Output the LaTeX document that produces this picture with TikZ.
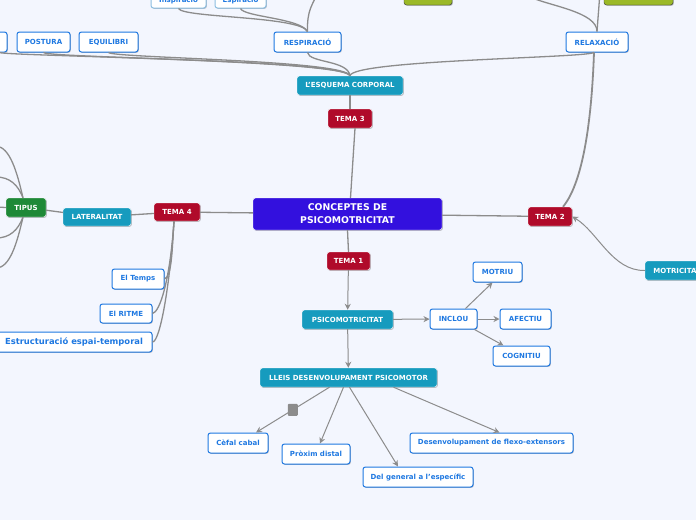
\documentclass[tikz,border=0pt]{standalone}
\usepackage{fontspec}
\setmainfont{DejaVu Sans}
\usetikzlibrary{arrows.meta,shadows}
\definecolor{mapback}{RGB}{243,246,254}
\definecolor{centralblue}{RGB}{51,16,222}
\definecolor{temared}{RGB}{176,10,42}
\definecolor{topicteal}{RGB}{22,155,190}
\definecolor{tipusgreen}{RGB}{30,137,55}
\definecolor{olivegreen}{RGB}{155,185,40}
\definecolor{leafblue}{RGB}{30,120,225}
\definecolor{fadeblue}{RGB}{140,190,225}
\definecolor{linegray}{RGB}{140,140,140}
\begin{document}
\begin{tikzpicture}
[x=1pt,y=-1pt,
  boxdecorate/.style={rounded corners=2.5pt,inner sep=0pt,minimum height=19pt,align=center,%
    font=\fontsize{7}{8}\selectfont\bfseries,%
    drop shadow={shadow xshift=0.8pt,shadow yshift=-0.8pt,opacity=0.25,fill=black}},
  temadecorate/.style={boxdecorate,fill=temared,draw=white,text=white},
  topicdecorate/.style={boxdecorate,fill=topicteal,draw=white,text=white},
  leafdecorate/.style={boxdecorate,fill=white,draw=leafblue,line width=1pt,text=leafblue,minimum height=20pt},
  linedecorate/.style={draw=linegray,line width=1.3pt},
  arrowdecorate/.style={-{Stealth[length=6pt,width=6pt]},draw=linegray,line width=1pt}]
\useasboundingbox (0,0) rectangle (696,520);
\fill[mapback] (0,0) rectangle (696,520);
% nodes or vertices
\node (cent) at (347.5,214) [boxdecorate,fill=centralblue,draw=white,text=white,minimum width=189pt,minimum height=32pt,font=\fontsize{9.3}{13}\selectfont\bfseries] {CONCEPTES DE\\PSICOMOTRICITAT};
\node (tema1) at (348.5,261) [temadecorate,minimum width=43pt,minimum height=18pt] {TEMA 1};
\node (tema2) at (550,216.5) [temadecorate,minimum width=44pt] {TEMA 2};
\node (tema3) at (350,118.5) [temadecorate,minimum width=44pt] {TEMA 3};
\node (tema4) at (177,212) [temadecorate,minimum width=46pt,minimum height=18pt] {TEMA 4};
% tema 3
\node (esq) at (350,85.5) [topicdecorate,minimum width=106pt] {L'ESQUEMA CORPORAL};
\node (resp) at (307.5,42) [leafdecorate,minimum width=67pt] {RESPIRACIÓ};
\node (relax) at (597,42) [leafdecorate,minimum width=62pt] {RELAXACIÓ};
\node (post) at (43.5,42) [leafdecorate,minimum width=53pt] {POSTURA};
\node (equi) at (108.5,42) [leafdecorate,minimum width=59pt] {EQUILIBRI};
\node (leftbox) at (-23,42) [leafdecorate,minimum width=60pt] {};
\node (insp) at (178.5,0) [leafdecorate,draw=fadeblue,minimum width=55pt,minimum height=16pt] {Inspiració};
\node (espi) at (240.5,0) [leafdecorate,draw=fadeblue,minimum width=51pt,minimum height=16pt] {Espiració};
\node (olive1) at (428,-5) [boxdecorate,fill=olivegreen,draw=black!80,minimum width=48pt,minimum height=20pt] {};
\node (olive2) at (638.5,-5) [boxdecorate,fill=olivegreen,draw=black!80,minimum width=69pt,minimum height=20pt] {};
\coordinate (respup) at (318,-8);
\coordinate (relaxup) at (600,-8);
\coordinate (relaxleft) at (530,-3);
% tema 2
\node (motr) at (677,270.5) [topicdecorate,minimum width=64pt] {MOTRICITAT};
% tema 4
\node (latr) at (97,217) [topicdecorate,minimum width=68pt,minimum height=18pt] {LATERALITAT};
\node (tipus) at (26,207.5) [boxdecorate,fill=tipusgreen,draw=white,text=white,minimum width=40pt] {TIPUS};
\coordinate (tip1) at (-4,146);
\coordinate (tip2) at (-4,177);
\coordinate (tip3) at (-4,207);
\coordinate (tip4) at (-4,238);
\coordinate (tip5) at (-4,268);
\node (temps) at (138,279) [leafdecorate,minimum width=52pt] {El Temps};
\node (ritme) at (126,313.5) [leafdecorate,minimum width=52pt,minimum height=19pt] {El RITME};
\node (estr) at (74,342) [leafdecorate,minimum width=156pt,font=\fontsize{8.4}{10}\selectfont\bfseries] {Estructuració espai-temporal};
% tema 1
\node (psico) at (347.5,319.5) [topicdecorate,minimum width=91pt] {PSICOMOTRICITAT};
\node (inclou) at (453.5,319) [leafdecorate,minimum width=47pt] {INCLOU};
\node (motriu) at (497.5,272) [leafdecorate,minimum width=49pt] {MOTRIU};
\node (afectiu) at (525.5,319) [leafdecorate,minimum width=51pt] {AFECTIU};
\node (cognitiu) at (521.5,356) [leafdecorate,minimum width=57pt] {COGNITIU};
\node (lleis) at (348.5,377.5) [topicdecorate,minimum width=177pt] {LLEIS DESENVOLUPAMENT PSICOMOTOR};
\node (cefal) at (238,443) [leafdecorate,minimum width=60pt] {Cèfal cabal};
\node (proxim) at (316,454) [leafdecorate,minimum width=68pt] {Pròxim distal};
\node (general) at (418,477) [leafdecorate,minimum width=110pt] {Del general a l'específic};
\node (desenv) at (491.5,443) [leafdecorate,minimum width=163pt] {Desenvolupament de flexo-extensors};
% edges or lines
\path
(cent) edge[linedecorate] (tema2)
(cent) edge[linedecorate] (tema4)
([xshift=3pt]cent.north) edge[linedecorate] ([xshift=5pt]tema3.south)
(cent.south) edge[linedecorate] (tema1.north)
(tema3) edge[linedecorate] (esq)
(tema4) edge[linedecorate] (latr)
(latr) edge[linedecorate] (tipus)
(tipus.west) edge[linedecorate] (tip3);
\draw[linedecorate] ([xshift=-3pt]tipus.north) .. controls (17,172) and (10,147) .. (tip1);
\draw[linedecorate] ([xshift=-3pt]tipus.north) .. controls (18,185) and (10,177) .. (tip2);
\draw[linedecorate] ([xshift=-3pt]tipus.south) .. controls (18,230) and (10,238) .. (tip4);
\draw[linedecorate] ([xshift=-3pt]tipus.south) .. controls (17,243) and (10,268) .. (tip5);
\draw[linedecorate] ([xshift=-3pt]tema4.south) .. controls (172,250) and (172,276) .. (temps.east);
\draw[linedecorate] ([xshift=-3pt]tema4.south) .. controls (170,280) and (160,312) .. (ritme.east);
\draw[linedecorate] ([xshift=-3pt]tema4.south) .. controls (170,285) and (160,342) .. (estr.east);
% esquema corporal
\draw[linedecorate] (post.south) .. controls (48,58) and (346,60) .. (esq.north);
\draw[linedecorate] (equi.south) .. controls (113,58) and (346,60) .. (esq.north);
\draw[linedecorate] ([xshift=-8pt]leftbox.south east) .. controls (5,56) and (346,60) .. (esq.north);
\draw[linedecorate] (resp.south) .. controls (309,63) and (348,60) .. (esq.north);
\draw[linedecorate] ([xshift=-3pt]relax.south) .. controls (585,58) and (352,60) .. (esq.north);
\draw[linedecorate] (insp.south) .. controls (183,18) and (300,16) .. (resp.north);
\draw[linedecorate] (espi.south) .. controls (244,17) and (300,18) .. (resp.north);
\draw[linedecorate] (resp.north) .. controls (307,10) and (312,6) .. (respup);
\draw[linedecorate] (relax.north) -- (relaxup);
\draw[linedecorate] (relax.north) .. controls (597,12) and (550,6) .. (relaxleft);
% tema 2
\draw[linedecorate,line width=1.8pt] ([xshift=-3pt]relax.south) .. controls (592,110) and (585,180) .. ([xshift=13pt]tema2.north);
\draw[arrowdecorate] (motr.west) .. controls (612,271) and (598,232) .. (tema2.east);
% tema 1
\path
(tema1) edge[arrowdecorate] (psico)
(psico) edge[arrowdecorate] (inclou)
([xshift=12pt]inclou.north) edge[arrowdecorate] ([xshift=-5pt]motriu.south)
(inclou) edge[arrowdecorate] (afectiu)
([xshift=-3pt]inclou.south east) edge[arrowdecorate] ([xshift=-18pt]cognitiu.north)
(psico) edge[arrowdecorate] (lleis)
([xshift=-19pt]lleis.south) edge[arrowdecorate] node[fill=linegray,rounded corners=1pt,minimum width=10pt,minimum height=12pt,inner sep=0pt] (cefalmark) {} ([xshift=18pt]cefal.north)
([xshift=-5pt]lleis.south) edge[arrowdecorate] ([xshift=4pt]proxim.north)
([xshift=1pt]lleis.south) edge[arrowdecorate] ([xshift=-20pt]general.north)
([xshift=45pt]lleis.south) edge[arrowdecorate] ([xshift=8pt]desenv.north);
\end{tikzpicture}
\end{document}
